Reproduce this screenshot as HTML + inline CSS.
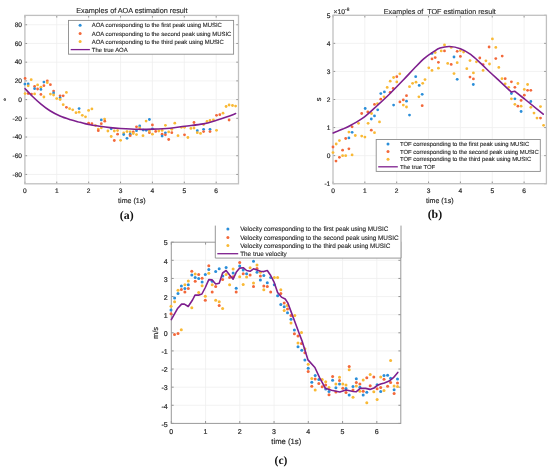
<!DOCTYPE html>
<html><head><meta charset="utf-8"><title>AOA TOF velocity estimation</title>
<style>html,body{margin:0;padding:0;background:#fff;width:550px;height:470px;overflow:hidden}svg{display:block}</style>
</head><body>
<svg width="550" height="470" viewBox="0 0 550 470" font-family="'Liberation Sans', Arial, sans-serif" text-rendering="geometricPrecision">
<rect width="550" height="470" fill="#fff"/>
<path d="M56.78 15.40V183.80M88.66 15.40V183.80M120.54 15.40V183.80M152.42 15.40V183.80M184.30 15.40V183.80M216.18 15.40V183.80M24.90 174.44H238.50M24.90 155.73H238.50M24.90 137.02H238.50M24.90 118.31H238.50M24.90 99.60H238.50M24.90 80.89H238.50M24.90 62.18H238.50M24.90 43.47H238.50M24.90 24.76H238.50" stroke="#efefef" stroke-width="0.8" fill="none"/>
<path d="M24.90 183.80v-2.2M24.90 15.40v2.2M56.78 183.80v-2.2M56.78 15.40v2.2M88.66 183.80v-2.2M88.66 15.40v2.2M120.54 183.80v-2.2M120.54 15.40v2.2M152.42 183.80v-2.2M152.42 15.40v2.2M184.30 183.80v-2.2M184.30 15.40v2.2M216.18 183.80v-2.2M216.18 15.40v2.2M24.90 174.44h2.2M238.50 174.44h-2.2M24.90 155.73h2.2M238.50 155.73h-2.2M24.90 137.02h2.2M238.50 137.02h-2.2M24.90 118.31h2.2M238.50 118.31h-2.2M24.90 99.60h2.2M238.50 99.60h-2.2M24.90 80.89h2.2M238.50 80.89h-2.2M24.90 62.18h2.2M238.50 62.18h-2.2M24.90 43.47h2.2M238.50 43.47h-2.2M24.90 24.76h2.2M238.50 24.76h-2.2" stroke="#6a6a6a" stroke-width="0.7" fill="none"/>
<rect x="24.90" y="15.40" width="213.60" height="168.40" stroke="#c0c0c0" stroke-width="1.3" fill="none"/>
<g font-size="6.6" fill="#2e2e2e" stroke="#2e2e2e" stroke-width="0.22"><text x="22.00" y="176.75" text-anchor="end">-80</text><text x="22.00" y="158.04" text-anchor="end">-60</text><text x="22.00" y="139.33" text-anchor="end">-40</text><text x="22.00" y="120.62" text-anchor="end">-20</text><text x="22.00" y="101.91" text-anchor="end">0</text><text x="22.00" y="83.20" text-anchor="end">20</text><text x="22.00" y="64.49" text-anchor="end">40</text><text x="22.00" y="45.78" text-anchor="end">60</text><text x="22.00" y="27.07" text-anchor="end">80</text><text x="24.90" y="193.40" text-anchor="middle">0</text><text x="56.78" y="193.40" text-anchor="middle">1</text><text x="88.66" y="193.40" text-anchor="middle">2</text><text x="120.54" y="193.40" text-anchor="middle">3</text><text x="152.42" y="193.40" text-anchor="middle">4</text><text x="184.30" y="193.40" text-anchor="middle">5</text><text x="216.18" y="193.40" text-anchor="middle">6</text></g>
<circle cx="25.1" cy="78.4" r="1.4" fill="#f3683a"/><circle cx="31.2" cy="79.7" r="1.4" fill="#f9b935"/><circle cx="24.9" cy="84.1" r="1.4" fill="#2a8ed9"/><circle cx="28.2" cy="83.9" r="1.4" fill="#2a8ed9"/><circle cx="28.2" cy="85.8" r="1.4" fill="#f9b935"/><circle cx="25.1" cy="93.6" r="1.4" fill="#f9b935"/><circle cx="28.2" cy="93.6" r="1.4" fill="#f3683a"/><circle cx="31.5" cy="94.1" r="1.4" fill="#f3683a"/><circle cx="34.6" cy="93.9" r="1.4" fill="#f9b935"/><circle cx="34.6" cy="86.4" r="1.4" fill="#f3683a"/><circle cx="34.6" cy="88.7" r="1.4" fill="#2a8ed9"/><circle cx="37.6" cy="84.9" r="1.4" fill="#f9b935"/><circle cx="37.6" cy="89.0" r="1.4" fill="#f3683a"/><circle cx="40.9" cy="87.2" r="1.4" fill="#f9b935"/><circle cx="40.9" cy="89.4" r="1.4" fill="#2a8ed9"/><circle cx="40.9" cy="94.4" r="1.4" fill="#f3683a"/><circle cx="43.9" cy="82.1" r="1.4" fill="#2a8ed9"/><circle cx="43.9" cy="85.7" r="1.4" fill="#f3683a"/><circle cx="43.9" cy="97.0" r="1.4" fill="#f9b935"/><circle cx="47.3" cy="80.8" r="1.4" fill="#f3683a"/><circle cx="47.3" cy="82.7" r="1.4" fill="#f9b935"/><circle cx="50.4" cy="84.7" r="1.4" fill="#f3683a"/><circle cx="50.4" cy="94.1" r="1.4" fill="#f9b935"/><circle cx="53.6" cy="91.1" r="1.4" fill="#f3683a"/><circle cx="53.6" cy="92.9" r="1.4" fill="#2a8ed9"/><circle cx="53.6" cy="95.0" r="1.4" fill="#f9b935"/><circle cx="56.7" cy="98.6" r="1.4" fill="#f9b935"/><circle cx="60.1" cy="95.8" r="1.4" fill="#f3683a"/><circle cx="60.1" cy="97.8" r="1.4" fill="#2a8ed9"/><circle cx="60.1" cy="99.5" r="1.4" fill="#f9b935"/><circle cx="63.2" cy="95.8" r="1.4" fill="#f3683a"/><circle cx="63.2" cy="104.7" r="1.4" fill="#f9b935"/><circle cx="66.4" cy="92.4" r="1.4" fill="#f9b935"/><circle cx="66.4" cy="107.3" r="1.4" fill="#f3683a"/><circle cx="69.6" cy="108.7" r="1.4" fill="#f9b935"/><circle cx="72.7" cy="109.8" r="1.4" fill="#f9b935"/><circle cx="76.0" cy="112.7" r="1.4" fill="#f9b935"/><circle cx="79.1" cy="108.6" r="1.4" fill="#2a8ed9"/><circle cx="79.1" cy="112.2" r="1.4" fill="#f9b935"/><circle cx="82.3" cy="115.3" r="1.4" fill="#f9b935"/><circle cx="85.5" cy="116.8" r="1.4" fill="#f9b935"/><circle cx="88.6" cy="110.4" r="1.4" fill="#f9b935"/><circle cx="91.9" cy="108.9" r="1.4" fill="#f9b935"/><circle cx="88.6" cy="123.2" r="1.4" fill="#f3683a"/><circle cx="91.9" cy="123.7" r="1.4" fill="#f3683a"/><circle cx="95.5" cy="125.6" r="1.4" fill="#f9b935"/><circle cx="98.3" cy="129.1" r="1.4" fill="#f9b935"/><circle cx="98.3" cy="130.7" r="1.4" fill="#f3683a"/><circle cx="101.3" cy="119.9" r="1.4" fill="#2a8ed9"/><circle cx="104.6" cy="119.1" r="1.4" fill="#f9b935"/><circle cx="104.8" cy="121.2" r="1.4" fill="#f3683a"/><circle cx="101.3" cy="123.7" r="1.4" fill="#f3683a"/><circle cx="101.3" cy="127.8" r="1.4" fill="#f9b935"/><circle cx="111.2" cy="128.8" r="1.4" fill="#2a8ed9"/><circle cx="107.9" cy="131.0" r="1.4" fill="#f9b935"/><circle cx="111.2" cy="136.5" r="1.4" fill="#f9b935"/><circle cx="114.3" cy="140.5" r="1.4" fill="#f3683a"/><circle cx="114.3" cy="131.0" r="1.4" fill="#f9b935"/><circle cx="117.6" cy="130.6" r="1.4" fill="#f9b935"/><circle cx="117.6" cy="134.2" r="1.4" fill="#f3683a"/><circle cx="120.6" cy="140.3" r="1.4" fill="#f9b935"/><circle cx="123.7" cy="132.9" r="1.4" fill="#f9b935"/><circle cx="123.7" cy="134.6" r="1.4" fill="#2a8ed9"/><circle cx="127.0" cy="131.6" r="1.4" fill="#f9b935"/><circle cx="127.0" cy="138.3" r="1.4" fill="#2a8ed9"/><circle cx="130.2" cy="131.9" r="1.4" fill="#f9b935"/><circle cx="130.2" cy="134.2" r="1.4" fill="#2a8ed9"/><circle cx="130.2" cy="135.7" r="1.4" fill="#f3683a"/><circle cx="133.3" cy="131.9" r="1.4" fill="#f3683a"/><circle cx="133.3" cy="133.5" r="1.4" fill="#f9b935"/><circle cx="136.5" cy="126.8" r="1.4" fill="#f3683a"/><circle cx="136.5" cy="130.7" r="1.4" fill="#2a8ed9"/><circle cx="136.5" cy="134.6" r="1.4" fill="#f9b935"/><circle cx="139.7" cy="125.9" r="1.4" fill="#2a8ed9"/><circle cx="139.7" cy="127.8" r="1.4" fill="#f9b935"/><circle cx="143.0" cy="135.7" r="1.4" fill="#f9b935"/><circle cx="143.2" cy="130.1" r="1.4" fill="#2a8ed9"/><circle cx="146.1" cy="121.1" r="1.4" fill="#f9b935"/><circle cx="149.4" cy="119.5" r="1.4" fill="#2a8ed9"/><circle cx="146.2" cy="130.3" r="1.4" fill="#2a8ed9"/><circle cx="149.4" cy="132.7" r="1.4" fill="#f3683a"/><circle cx="149.4" cy="131.0" r="1.4" fill="#f9b935"/><circle cx="152.4" cy="125.0" r="1.4" fill="#f3683a"/><circle cx="152.4" cy="128.8" r="1.4" fill="#2a8ed9"/><circle cx="152.4" cy="134.2" r="1.4" fill="#f9b935"/><circle cx="155.7" cy="131.4" r="1.4" fill="#f3683a"/><circle cx="158.8" cy="131.0" r="1.4" fill="#f9b935"/><circle cx="162.1" cy="130.4" r="1.4" fill="#f9b935"/><circle cx="162.1" cy="134.2" r="1.4" fill="#f3683a"/><circle cx="162.1" cy="136.1" r="1.4" fill="#2a8ed9"/><circle cx="165.4" cy="132.8" r="1.4" fill="#2a8ed9"/><circle cx="165.4" cy="134.8" r="1.4" fill="#f3683a"/><circle cx="165.4" cy="125.3" r="1.4" fill="#f9b935"/><circle cx="168.7" cy="139.5" r="1.4" fill="#f3683a"/><circle cx="168.7" cy="131.9" r="1.4" fill="#f9b935"/><circle cx="171.8" cy="132.7" r="1.4" fill="#f3683a"/><circle cx="171.8" cy="129.3" r="1.4" fill="#f9b935"/><circle cx="174.8" cy="123.2" r="1.4" fill="#f9b935"/><circle cx="178.0" cy="135.7" r="1.4" fill="#f9b935"/><circle cx="181.4" cy="127.3" r="1.4" fill="#f9b935"/><circle cx="184.5" cy="134.8" r="1.4" fill="#f3683a"/><circle cx="184.5" cy="127.3" r="1.4" fill="#f9b935"/><circle cx="187.9" cy="137.5" r="1.4" fill="#f9b935"/><circle cx="190.9" cy="128.4" r="1.4" fill="#f9b935"/><circle cx="194.0" cy="122.5" r="1.4" fill="#f3683a"/><circle cx="194.0" cy="128.0" r="1.4" fill="#f9b935"/><circle cx="197.3" cy="130.7" r="1.4" fill="#2a8ed9"/><circle cx="197.3" cy="132.7" r="1.4" fill="#f9b935"/><circle cx="200.5" cy="133.4" r="1.4" fill="#f9b935"/><circle cx="203.6" cy="124.5" r="1.4" fill="#f9b935"/><circle cx="203.6" cy="129.3" r="1.4" fill="#2a8ed9"/><circle cx="203.6" cy="131.6" r="1.4" fill="#f3683a"/><circle cx="207.0" cy="121.5" r="1.4" fill="#f9b935"/><circle cx="210.0" cy="129.3" r="1.4" fill="#2a8ed9"/><circle cx="210.0" cy="131.6" r="1.4" fill="#f3683a"/><circle cx="210.0" cy="120.5" r="1.4" fill="#f9b935"/><circle cx="213.4" cy="119.8" r="1.4" fill="#f9b935"/><circle cx="216.5" cy="115.3" r="1.4" fill="#f3683a"/><circle cx="216.5" cy="130.3" r="1.4" fill="#f9b935"/><circle cx="219.8" cy="114.7" r="1.4" fill="#f3683a"/><circle cx="223.0" cy="113.2" r="1.4" fill="#f9b935"/><circle cx="229.1" cy="120.0" r="1.4" fill="#f3683a"/><circle cx="226.1" cy="106.5" r="1.4" fill="#f9b935"/><circle cx="229.1" cy="105.0" r="1.4" fill="#f9b935"/><circle cx="232.5" cy="105.5" r="1.4" fill="#f9b935"/><circle cx="235.6" cy="106.1" r="1.4" fill="#f9b935"/>
<path d="M25.10 88.70 C26.30 89.95 29.60 93.58 32.30 96.20 C35.00 98.82 38.35 101.97 41.30 104.40 C44.25 106.83 46.88 108.85 50.00 110.80 C53.12 112.75 56.57 114.60 60.00 116.10 C63.43 117.60 67.27 118.77 70.60 119.80 C73.93 120.83 77.00 121.52 80.00 122.30 C83.00 123.08 85.27 123.83 88.60 124.50 C91.93 125.17 96.43 125.78 100.00 126.30 C103.57 126.82 106.60 127.23 110.00 127.60 C113.40 127.97 115.70 128.22 120.40 128.50 C125.10 128.78 132.80 129.20 138.20 129.30 C143.60 129.40 147.50 129.28 152.80 129.10 C158.10 128.92 164.67 128.68 170.00 128.20 C175.33 127.72 179.27 126.92 184.80 126.20 C190.33 125.48 197.92 124.90 203.20 123.90 C208.48 122.90 212.63 121.35 216.50 120.20 C220.37 119.05 223.22 118.10 226.40 117.00 C229.58 115.90 234.07 114.17 235.60 113.60" stroke="#7e1f8e" stroke-width="1.6" fill="none" stroke-linejoin="round" stroke-linecap="round"/>
<rect x="68.5" y="20.4" width="165.1" height="33.800000000000004" fill="#fff" stroke="#8c8c8c" stroke-width="0.9"/>
<circle cx="80.1" cy="25.3" r="1.5" fill="#2a8ed9"/>
<circle cx="80.1" cy="33.5" r="1.5" fill="#f3683a"/>
<circle cx="80.1" cy="41.5" r="1.5" fill="#f9b935"/>
<path d="M70.7 49.6H89.9" stroke="#7e1f8e" stroke-width="1.3"/>
<g font-size="5.93" fill="#262626" stroke="#262626" stroke-width="0.12"><text x="91.8" y="27.43">AOA corresponding to the first peak using MUSIC</text><text x="91.8" y="35.63">AOA corresponding to the second peak using MUSIC</text><text x="91.8" y="43.63">AOA corresponding to the third peak using MUSIC</text><text x="91.8" y="51.73">The true AOA</text></g>
<text x="131.9" y="13.4" font-size="7.25" fill="#262626" stroke="#262626" stroke-width="0.12" text-anchor="middle">Examples of AOA estimation result</text>
<text x="131.9" y="202.6" font-size="7.1" fill="#262626" stroke="#262626" stroke-width="0.15" text-anchor="middle">time (1s)</text>
<text x="4.8" y="99.5" font-size="7.5" fill="#444" text-anchor="middle" transform="rotate(-90 4.8 99.5)" dy="3.9" stroke="#444" stroke-width="0.35">°</text>
<text x="126.7" y="218.8" font-size="11.8" font-weight="bold" font-family="'Liberation Serif', serif" fill="#111" text-anchor="middle">(a)</text>
<path d="M364.85 15.30V183.70M396.70 15.30V183.70M428.55 15.30V183.70M460.40 15.30V183.70M492.25 15.30V183.70M524.10 15.30V183.70M333.00 155.63H546.40M333.00 127.57H546.40M333.00 99.50H546.40M333.00 71.43H546.40M333.00 43.37H546.40" stroke="#efefef" stroke-width="0.8" fill="none"/>
<path d="M333.00 183.70v-2.2M333.00 15.30v2.2M364.85 183.70v-2.2M364.85 15.30v2.2M396.70 183.70v-2.2M396.70 15.30v2.2M428.55 183.70v-2.2M428.55 15.30v2.2M460.40 183.70v-2.2M460.40 15.30v2.2M492.25 183.70v-2.2M492.25 15.30v2.2M524.10 183.70v-2.2M524.10 15.30v2.2M333.00 183.70h2.2M546.40 183.70h-2.2M333.00 155.63h2.2M546.40 155.63h-2.2M333.00 127.57h2.2M546.40 127.57h-2.2M333.00 99.50h2.2M546.40 99.50h-2.2M333.00 71.43h2.2M546.40 71.43h-2.2M333.00 43.37h2.2M546.40 43.37h-2.2M333.00 15.30h2.2M546.40 15.30h-2.2" stroke="#6a6a6a" stroke-width="0.7" fill="none"/>
<rect x="333.00" y="15.30" width="213.40" height="168.40" stroke="#c0c0c0" stroke-width="1.3" fill="none"/>
<g font-size="6.6" fill="#2e2e2e" stroke="#2e2e2e" stroke-width="0.22"><text x="330.30" y="186.01" text-anchor="end">-1</text><text x="330.30" y="157.94" text-anchor="end">0</text><text x="330.30" y="129.88" text-anchor="end">1</text><text x="330.30" y="101.81" text-anchor="end">2</text><text x="330.30" y="73.74" text-anchor="end">3</text><text x="330.30" y="45.68" text-anchor="end">4</text><text x="330.30" y="17.61" text-anchor="end">5</text><text x="333.00" y="193.40" text-anchor="middle">0</text><text x="364.85" y="193.40" text-anchor="middle">1</text><text x="396.70" y="193.40" text-anchor="middle">2</text><text x="428.55" y="193.40" text-anchor="middle">3</text><text x="460.40" y="193.40" text-anchor="middle">4</text><text x="492.25" y="193.40" text-anchor="middle">5</text><text x="524.10" y="193.40" text-anchor="middle">6</text></g>
<circle cx="361.7" cy="113.5" r="1.4" fill="#f3683a"/><circle cx="367.8" cy="111.9" r="1.4" fill="#f3683a"/><circle cx="371.5" cy="113.5" r="1.4" fill="#f9b935"/><circle cx="377.7" cy="109.8" r="1.4" fill="#2a8ed9"/><circle cx="374.5" cy="115.9" r="1.4" fill="#2a8ed9"/><circle cx="371.3" cy="119.0" r="1.4" fill="#2a8ed9"/><circle cx="368.1" cy="123.3" r="1.4" fill="#f9b935"/><circle cx="358.5" cy="123.3" r="1.4" fill="#f9b935"/><circle cx="379.5" cy="121.9" r="1.4" fill="#f9b935"/><circle cx="352.1" cy="126.8" r="1.4" fill="#f3683a"/><circle cx="348.9" cy="132.1" r="1.4" fill="#f9b935"/><circle cx="352.1" cy="132.3" r="1.4" fill="#2a8ed9"/><circle cx="371.3" cy="130.2" r="1.4" fill="#f3683a"/><circle cx="374.5" cy="132.7" r="1.4" fill="#f9b935"/><circle cx="355.3" cy="135.5" r="1.4" fill="#f9b935"/><circle cx="361.7" cy="136.1" r="1.4" fill="#f9b935"/><circle cx="364.9" cy="137.1" r="1.4" fill="#f9b935"/><circle cx="345.7" cy="138.5" r="1.4" fill="#f3683a"/><circle cx="348.9" cy="137.9" r="1.4" fill="#2a8ed9"/><circle cx="339.4" cy="140.6" r="1.4" fill="#f9b935"/><circle cx="336.2" cy="144.0" r="1.4" fill="#f9b935"/><circle cx="333.0" cy="147.0" r="1.4" fill="#f3683a"/><circle cx="342.6" cy="150.2" r="1.4" fill="#f3683a"/><circle cx="348.9" cy="148.8" r="1.4" fill="#f3683a"/><circle cx="333.0" cy="152.6" r="1.4" fill="#f9b935"/><circle cx="342.6" cy="155.7" r="1.4" fill="#f9b935"/><circle cx="345.7" cy="155.7" r="1.4" fill="#f9b935"/><circle cx="352.1" cy="154.9" r="1.4" fill="#f9b935"/><circle cx="339.4" cy="157.3" r="1.4" fill="#f3683a"/><circle cx="336.0" cy="161.1" r="1.4" fill="#f3683a"/><circle cx="393.6" cy="77.5" r="1.4" fill="#f9b935"/><circle cx="396.8" cy="76.7" r="1.4" fill="#f3683a"/><circle cx="390.2" cy="81.2" r="1.4" fill="#f9b935"/><circle cx="396.8" cy="81.9" r="1.4" fill="#f9b935"/><circle cx="387.2" cy="87.4" r="1.4" fill="#f9b935"/><circle cx="393.2" cy="88.4" r="1.4" fill="#f3683a"/><circle cx="380.8" cy="93.6" r="1.4" fill="#2a8ed9"/><circle cx="384.4" cy="91.9" r="1.4" fill="#2a8ed9"/><circle cx="390.2" cy="92.3" r="1.4" fill="#f3683a"/><circle cx="384.0" cy="96.8" r="1.4" fill="#f9b935"/><circle cx="380.8" cy="99.2" r="1.4" fill="#f3683a"/><circle cx="377.5" cy="103.7" r="1.4" fill="#f9b935"/><circle cx="374.5" cy="104.4" r="1.4" fill="#f3683a"/><circle cx="393.6" cy="105.1" r="1.4" fill="#2a8ed9"/><circle cx="365.2" cy="108.5" r="1.4" fill="#2a8ed9"/><circle cx="415.7" cy="76.7" r="1.4" fill="#2a8ed9"/><circle cx="412.6" cy="83.3" r="1.4" fill="#f9b935"/><circle cx="416.0" cy="82.2" r="1.4" fill="#f9b935"/><circle cx="419.2" cy="85.4" r="1.4" fill="#2a8ed9"/><circle cx="422.7" cy="83.3" r="1.4" fill="#f9b935"/><circle cx="409.5" cy="86.7" r="1.4" fill="#f9b935"/><circle cx="422.2" cy="94.3" r="1.4" fill="#2a8ed9"/><circle cx="418.9" cy="96.8" r="1.4" fill="#f9b935"/><circle cx="406.5" cy="95.7" r="1.4" fill="#f3683a"/><circle cx="403.3" cy="99.9" r="1.4" fill="#f3683a"/><circle cx="399.9" cy="101.9" r="1.4" fill="#f3683a"/><circle cx="406.5" cy="101.2" r="1.4" fill="#2a8ed9"/><circle cx="403.3" cy="105.1" r="1.4" fill="#f9b935"/><circle cx="406.5" cy="107.0" r="1.4" fill="#f9b935"/><circle cx="409.5" cy="115.1" r="1.4" fill="#2a8ed9"/><circle cx="422.2" cy="105.7" r="1.4" fill="#f3683a"/><circle cx="425.0" cy="79.6" r="1.4" fill="#f9b935"/><circle cx="399.8" cy="73.8" r="1.4" fill="#f9b935"/><circle cx="428.8" cy="67.8" r="1.4" fill="#f9b935"/><circle cx="432.0" cy="70.4" r="1.4" fill="#f9b935"/><circle cx="432.0" cy="53.4" r="1.4" fill="#2a8ed9"/><circle cx="432.0" cy="58.9" r="1.4" fill="#f3683a"/><circle cx="435.2" cy="57.6" r="1.4" fill="#f3683a"/><circle cx="435.2" cy="52.5" r="1.4" fill="#f9b935"/><circle cx="438.4" cy="62.3" r="1.4" fill="#f3683a"/><circle cx="438.4" cy="68.2" r="1.4" fill="#f9b935"/><circle cx="441.2" cy="50.9" r="1.4" fill="#f9b935"/><circle cx="444.5" cy="50.9" r="1.4" fill="#f3683a"/><circle cx="444.5" cy="44.9" r="1.4" fill="#f9b935"/><circle cx="451.2" cy="47.4" r="1.4" fill="#f9b935"/><circle cx="457.2" cy="51.3" r="1.4" fill="#f3683a"/><circle cx="460.4" cy="50.6" r="1.4" fill="#f9b935"/><circle cx="463.6" cy="52.1" r="1.4" fill="#f9b935"/><circle cx="454.0" cy="57.0" r="1.4" fill="#2a8ed9"/><circle cx="460.4" cy="56.4" r="1.4" fill="#f3683a"/><circle cx="447.7" cy="63.4" r="1.4" fill="#f9b935"/><circle cx="451.2" cy="64.4" r="1.4" fill="#f3683a"/><circle cx="457.2" cy="62.7" r="1.4" fill="#f9b935"/><circle cx="470.0" cy="60.6" r="1.4" fill="#f9b935"/><circle cx="466.8" cy="68.7" r="1.4" fill="#f9b935"/><circle cx="479.8" cy="58.0" r="1.4" fill="#f3683a"/><circle cx="476.4" cy="61.8" r="1.4" fill="#f9b935"/><circle cx="483.1" cy="64.6" r="1.4" fill="#f3683a"/><circle cx="485.9" cy="60.8" r="1.4" fill="#f9b935"/><circle cx="489.5" cy="64.0" r="1.4" fill="#f9b935"/><circle cx="483.1" cy="70.4" r="1.4" fill="#f9b935"/><circle cx="489.1" cy="47.0" r="1.4" fill="#f3683a"/><circle cx="454.0" cy="73.6" r="1.4" fill="#f9b935"/><circle cx="473.4" cy="72.9" r="1.4" fill="#f9b935"/><circle cx="470.0" cy="77.1" r="1.4" fill="#f3683a"/><circle cx="473.4" cy="78.9" r="1.4" fill="#f3683a"/><circle cx="457.2" cy="79.3" r="1.4" fill="#2a8ed9"/><circle cx="473.3" cy="84.5" r="1.4" fill="#2a8ed9"/><circle cx="492.4" cy="38.9" r="1.4" fill="#f9b935"/><circle cx="495.8" cy="47.4" r="1.4" fill="#f9b935"/><circle cx="502.2" cy="56.1" r="1.4" fill="#f3683a"/><circle cx="495.8" cy="58.6" r="1.4" fill="#f3683a"/><circle cx="498.8" cy="67.4" r="1.4" fill="#f9b935"/><circle cx="502.0" cy="78.7" r="1.4" fill="#f9b935"/><circle cx="505.2" cy="78.7" r="1.4" fill="#f3683a"/><circle cx="505.2" cy="83.8" r="1.4" fill="#f9b935"/><circle cx="511.4" cy="81.8" r="1.4" fill="#f3683a"/><circle cx="508.7" cy="87.3" r="1.4" fill="#f9b935"/><circle cx="514.9" cy="87.3" r="1.4" fill="#f3683a"/><circle cx="517.9" cy="83.5" r="1.4" fill="#f9b935"/><circle cx="527.6" cy="84.5" r="1.4" fill="#f9b935"/><circle cx="524.3" cy="89.4" r="1.4" fill="#f9b935"/><circle cx="527.6" cy="90.3" r="1.4" fill="#f3683a"/><circle cx="530.8" cy="90.3" r="1.4" fill="#f3683a"/><circle cx="511.4" cy="93.5" r="1.4" fill="#2a8ed9"/><circle cx="524.3" cy="95.2" r="1.4" fill="#f3683a"/><circle cx="511.4" cy="98.8" r="1.4" fill="#f9b935"/><circle cx="514.9" cy="98.8" r="1.4" fill="#2a8ed9"/><circle cx="521.1" cy="100.4" r="1.4" fill="#f3683a"/><circle cx="530.8" cy="101.5" r="1.4" fill="#2a8ed9"/><circle cx="514.9" cy="104.3" r="1.4" fill="#f9b935"/><circle cx="517.9" cy="106.2" r="1.4" fill="#f3683a"/><circle cx="521.1" cy="106.2" r="1.4" fill="#f9b935"/><circle cx="530.8" cy="107.3" r="1.4" fill="#f9b935"/><circle cx="521.1" cy="111.5" r="1.4" fill="#2a8ed9"/><circle cx="534.0" cy="113.1" r="1.4" fill="#f9b935"/><circle cx="540.5" cy="106.6" r="1.4" fill="#f9b935"/><circle cx="537.0" cy="118.1" r="1.4" fill="#f9b935"/><circle cx="540.5" cy="118.1" r="1.4" fill="#f3683a"/><circle cx="543.6" cy="125.3" r="1.4" fill="#f9b935"/>
<path d="M333.20 132.90 C334.80 132.27 339.70 130.47 342.80 129.10 C345.90 127.73 348.18 126.75 351.80 124.70 C355.42 122.65 360.25 120.00 364.50 116.80 C368.75 113.60 373.20 109.22 377.30 105.50 C381.40 101.78 384.77 98.75 389.10 94.50 C393.43 90.25 399.13 84.33 403.30 80.00 C407.47 75.67 410.60 72.12 414.10 68.50 C417.60 64.88 421.10 61.07 424.30 58.30 C427.50 55.53 430.68 53.60 433.30 51.90 C435.92 50.20 437.28 49.00 440.00 48.10 C442.72 47.20 446.20 46.40 449.60 46.50 C453.00 46.60 456.90 47.38 460.40 48.70 C463.90 50.02 467.20 51.95 470.60 54.40 C474.00 56.85 477.62 60.47 480.80 63.40 C483.98 66.33 486.87 69.35 489.70 72.00 C492.53 74.65 496.45 78.08 497.80 79.30 L511.40 92.10 L514.60 91.20 L524.60 99.00 L543.20 114.20" stroke="#7e1f8e" stroke-width="1.6" fill="none" stroke-linejoin="round" stroke-linecap="round"/>
<rect x="376.2" y="139.5" width="164.09999999999997" height="31.900000000000006" fill="#fff" stroke="#8c8c8c" stroke-width="0.9"/>
<circle cx="388" cy="144.0" r="1.5" fill="#2a8ed9"/>
<circle cx="388" cy="151.6" r="1.5" fill="#f3683a"/>
<circle cx="388" cy="159.2" r="1.5" fill="#f9b935"/>
<path d="M378.2 166.8H397.8" stroke="#7e1f8e" stroke-width="1.3"/>
<g font-size="5.91" fill="#262626" stroke="#262626" stroke-width="0.12"><text x="400" y="146.13">TOF corresponding to the first peak using MUSIC</text><text x="400" y="153.73">TOF corresponding to the second peak using MUSIC</text><text x="400" y="161.33">TOF corresponding to the third peak using MUSIC</text><text x="400" y="168.93">The true TOF</text></g>
<text x="439.8" y="13.5" font-size="7.2" fill="#262626" stroke="#262626" stroke-width="0.12" text-anchor="middle" style="white-space:pre">Examples of  TOF estimation result</text>
<text x="439.8" y="202.6" font-size="7.1" fill="#262626" stroke="#262626" stroke-width="0.15" text-anchor="middle">time (1s)</text>
<text x="318.7" y="99.4" font-size="7.4" fill="#262626" stroke="#262626" stroke-width="0.2" text-anchor="middle" transform="rotate(-90 318.7 99.4)" dy="2.6">s</text>
<text x="333.5" y="14.0" font-size="6.8" fill="#2e2e2e" stroke="#2e2e2e" stroke-width="0.15">×10<tspan font-size="4.8" dy="-3.1">-8</tspan></text>
<text x="434.9" y="218.2" font-size="11.8" font-weight="bold" font-family="'Liberation Serif', serif" fill="#111" text-anchor="middle">(b)</text>
<path d="M205.55 242.20V423.40M239.81 242.20V423.40M274.06 242.20V423.40M308.31 242.20V423.40M342.57 242.20V423.40M376.82 242.20V423.40M171.30 405.28H400.80M171.30 387.16H400.80M171.30 369.04H400.80M171.30 350.92H400.80M171.30 332.80H400.80M171.30 314.68H400.80M171.30 296.56H400.80M171.30 278.44H400.80M171.30 260.32H400.80" stroke="#efefef" stroke-width="0.8" fill="none"/>
<path d="M171.30 423.40v-2.4M171.30 242.20v2.4M205.55 423.40v-2.4M205.55 242.20v2.4M239.81 423.40v-2.4M239.81 242.20v2.4M274.06 423.40v-2.4M274.06 242.20v2.4M308.31 423.40v-2.4M308.31 242.20v2.4M342.57 423.40v-2.4M342.57 242.20v2.4M376.82 423.40v-2.4M376.82 242.20v2.4M171.30 423.40h2.4M400.80 423.40h-2.4M171.30 405.28h2.4M400.80 405.28h-2.4M171.30 387.16h2.4M400.80 387.16h-2.4M171.30 369.04h2.4M400.80 369.04h-2.4M171.30 350.92h2.4M400.80 350.92h-2.4M171.30 332.80h2.4M400.80 332.80h-2.4M171.30 314.68h2.4M400.80 314.68h-2.4M171.30 296.56h2.4M400.80 296.56h-2.4M171.30 278.44h2.4M400.80 278.44h-2.4M171.30 260.32h2.4M400.80 260.32h-2.4M171.30 242.20h2.4M400.80 242.20h-2.4" stroke="#6a6a6a" stroke-width="0.7" fill="none"/>
<rect x="171.30" y="242.20" width="229.50" height="181.20" stroke="#999" stroke-width="1.0" fill="none"/>
<g font-size="7.0" fill="#2e2e2e" stroke="#2e2e2e" stroke-width="0.22"><text x="167.70" y="426.62" text-anchor="end">-5</text><text x="167.70" y="408.50" text-anchor="end">-4</text><text x="167.70" y="390.38" text-anchor="end">-3</text><text x="167.70" y="372.26" text-anchor="end">-2</text><text x="167.70" y="354.14" text-anchor="end">-1</text><text x="167.70" y="336.02" text-anchor="end">0</text><text x="167.70" y="317.90" text-anchor="end">1</text><text x="167.70" y="299.78" text-anchor="end">2</text><text x="167.70" y="281.66" text-anchor="end">3</text><text x="167.70" y="263.54" text-anchor="end">4</text><text x="167.70" y="245.42" text-anchor="end">5</text><text x="171.30" y="433.70" text-anchor="middle">0</text><text x="205.55" y="433.70" text-anchor="middle">1</text><text x="239.81" y="433.70" text-anchor="middle">2</text><text x="274.06" y="433.70" text-anchor="middle">3</text><text x="308.31" y="433.70" text-anchor="middle">4</text><text x="342.57" y="433.70" text-anchor="middle">5</text><text x="376.82" y="433.70" text-anchor="middle">6</text></g>
<circle cx="171.0" cy="306.2" r="1.5" fill="#f9b935"/><circle cx="171.0" cy="310.0" r="1.5" fill="#2a8ed9"/><circle cx="171.0" cy="313.8" r="1.5" fill="#f3683a"/><circle cx="174.6" cy="297.9" r="1.5" fill="#2a8ed9"/><circle cx="174.6" cy="301.7" r="1.5" fill="#f9b935"/><circle cx="178.0" cy="293.4" r="1.5" fill="#2a8ed9"/><circle cx="178.0" cy="290.3" r="1.5" fill="#f9b935"/><circle cx="181.4" cy="286.1" r="1.5" fill="#2a8ed9"/><circle cx="181.4" cy="289.6" r="1.5" fill="#f3683a"/><circle cx="184.9" cy="284.7" r="1.5" fill="#f9b935"/><circle cx="184.9" cy="288.5" r="1.5" fill="#2a8ed9"/><circle cx="184.9" cy="292.1" r="1.5" fill="#f3683a"/><circle cx="188.3" cy="281.0" r="1.5" fill="#f9b935"/><circle cx="188.3" cy="284.7" r="1.5" fill="#2a8ed9"/><circle cx="188.3" cy="288.5" r="1.5" fill="#f3683a"/><circle cx="191.8" cy="271.3" r="1.5" fill="#f3683a"/><circle cx="191.8" cy="275.0" r="1.5" fill="#2a8ed9"/><circle cx="191.8" cy="307.8" r="1.5" fill="#f9b935"/><circle cx="195.2" cy="274.1" r="1.5" fill="#f9b935"/><circle cx="195.2" cy="277.4" r="1.5" fill="#2a8ed9"/><circle cx="195.2" cy="281.3" r="1.5" fill="#f3683a"/><circle cx="198.7" cy="274.6" r="1.5" fill="#f3683a"/><circle cx="198.7" cy="278.5" r="1.5" fill="#2a8ed9"/><circle cx="198.7" cy="292.6" r="1.5" fill="#f9b935"/><circle cx="202.1" cy="278.2" r="1.5" fill="#f3683a"/><circle cx="202.1" cy="282.0" r="1.5" fill="#2a8ed9"/><circle cx="202.1" cy="285.7" r="1.5" fill="#f9b935"/><circle cx="205.3" cy="274.6" r="1.5" fill="#2a8ed9"/><circle cx="205.3" cy="296.2" r="1.5" fill="#f9b935"/><circle cx="205.3" cy="300.3" r="1.5" fill="#f3683a"/><circle cx="208.8" cy="265.8" r="1.5" fill="#f3683a"/><circle cx="208.8" cy="269.5" r="1.5" fill="#2a8ed9"/><circle cx="208.8" cy="273.2" r="1.5" fill="#f9b935"/><circle cx="212.2" cy="281.3" r="1.5" fill="#2a8ed9"/><circle cx="212.2" cy="284.7" r="1.5" fill="#f9b935"/><circle cx="212.2" cy="292.1" r="1.5" fill="#f3683a"/><circle cx="215.7" cy="271.6" r="1.5" fill="#2a8ed9"/><circle cx="215.7" cy="286.5" r="1.5" fill="#f3683a"/><circle cx="215.7" cy="300.3" r="1.5" fill="#f9b935"/><circle cx="219.2" cy="268.8" r="1.5" fill="#2a8ed9"/><circle cx="219.2" cy="301.7" r="1.5" fill="#f9b935"/><circle cx="219.2" cy="305.5" r="1.5" fill="#f3683a"/><circle cx="222.6" cy="308.6" r="1.5" fill="#f9b935"/><circle cx="222.6" cy="279.6" r="1.5" fill="#f3683a"/><circle cx="226.1" cy="267.4" r="1.5" fill="#2a8ed9"/><circle cx="226.1" cy="274.6" r="1.5" fill="#f9b935"/><circle cx="222.8" cy="276.0" r="1.5" fill="#2a8ed9"/><circle cx="229.6" cy="277.4" r="1.5" fill="#f3683a"/><circle cx="229.6" cy="284.7" r="1.5" fill="#f9b935"/><circle cx="233.1" cy="269.1" r="1.5" fill="#f9b935"/><circle cx="233.1" cy="273.0" r="1.5" fill="#2a8ed9"/><circle cx="233.1" cy="276.8" r="1.5" fill="#f3683a"/><circle cx="236.2" cy="288.2" r="1.5" fill="#2a8ed9"/><circle cx="236.2" cy="292.1" r="1.5" fill="#f3683a"/><circle cx="239.7" cy="262.6" r="1.5" fill="#f3683a"/><circle cx="239.7" cy="266.1" r="1.5" fill="#2a8ed9"/><circle cx="239.7" cy="276.8" r="1.5" fill="#f9b935"/><circle cx="243.2" cy="269.9" r="1.5" fill="#2a8ed9"/><circle cx="243.2" cy="273.7" r="1.5" fill="#f3683a"/><circle cx="243.2" cy="284.4" r="1.5" fill="#f9b935"/><circle cx="246.6" cy="273.7" r="1.5" fill="#2a8ed9"/><circle cx="246.6" cy="277.1" r="1.5" fill="#f9b935"/><circle cx="250.1" cy="267.7" r="1.5" fill="#f9b935"/><circle cx="250.1" cy="275.0" r="1.5" fill="#f3683a"/><circle cx="253.5" cy="261.2" r="1.5" fill="#2a8ed9"/><circle cx="253.5" cy="282.9" r="1.5" fill="#f9b935"/><circle cx="253.5" cy="286.5" r="1.5" fill="#f3683a"/><circle cx="257.0" cy="265.0" r="1.5" fill="#f9b935"/><circle cx="257.0" cy="268.5" r="1.5" fill="#f3683a"/><circle cx="257.0" cy="272.3" r="1.5" fill="#2a8ed9"/><circle cx="260.4" cy="272.3" r="1.5" fill="#f9b935"/><circle cx="260.4" cy="276.0" r="1.5" fill="#f3683a"/><circle cx="260.4" cy="279.9" r="1.5" fill="#2a8ed9"/><circle cx="263.8" cy="275.5" r="1.5" fill="#2a8ed9"/><circle cx="263.8" cy="286.1" r="1.5" fill="#f3683a"/><circle cx="263.8" cy="289.8" r="1.5" fill="#f9b935"/><circle cx="267.3" cy="282.7" r="1.5" fill="#2a8ed9"/><circle cx="267.3" cy="286.5" r="1.5" fill="#f3683a"/><circle cx="270.7" cy="277.4" r="1.5" fill="#2a8ed9"/><circle cx="270.7" cy="292.1" r="1.5" fill="#f3683a"/><circle cx="274.3" cy="277.4" r="1.5" fill="#f9b935"/><circle cx="274.3" cy="284.7" r="1.5" fill="#2a8ed9"/><circle cx="277.6" cy="277.4" r="1.5" fill="#f9b935"/><circle cx="277.6" cy="295.8" r="1.5" fill="#2a8ed9"/><circle cx="280.8" cy="289.8" r="1.5" fill="#f9b935"/><circle cx="280.8" cy="293.4" r="1.5" fill="#f3683a"/><circle cx="280.8" cy="304.5" r="1.5" fill="#2a8ed9"/><circle cx="284.2" cy="302.9" r="1.5" fill="#f3683a"/><circle cx="287.1" cy="305.4" r="1.5" fill="#f9b935"/><circle cx="284.2" cy="306.7" r="1.5" fill="#2a8ed9"/><circle cx="287.5" cy="309.0" r="1.5" fill="#f3683a"/><circle cx="284.2" cy="310.5" r="1.5" fill="#f9b935"/><circle cx="287.5" cy="312.8" r="1.5" fill="#2a8ed9"/><circle cx="291.0" cy="315.6" r="1.5" fill="#f3683a"/><circle cx="294.8" cy="315.6" r="1.5" fill="#f9b935"/><circle cx="291.0" cy="319.2" r="1.5" fill="#2a8ed9"/><circle cx="291.0" cy="323.0" r="1.5" fill="#f9b935"/><circle cx="294.4" cy="329.9" r="1.5" fill="#2a8ed9"/><circle cx="294.4" cy="333.7" r="1.5" fill="#f3683a"/><circle cx="301.5" cy="332.4" r="1.5" fill="#f9b935"/><circle cx="298.0" cy="336.0" r="1.5" fill="#f3683a"/><circle cx="298.0" cy="343.0" r="1.5" fill="#f9b935"/><circle cx="301.5" cy="343.4" r="1.5" fill="#f3683a"/><circle cx="298.0" cy="346.8" r="1.5" fill="#2a8ed9"/><circle cx="301.8" cy="350.2" r="1.5" fill="#2a8ed9"/><circle cx="304.9" cy="348.8" r="1.5" fill="#f9b935"/><circle cx="304.9" cy="352.7" r="1.5" fill="#f3683a"/><circle cx="304.9" cy="359.9" r="1.5" fill="#2a8ed9"/><circle cx="308.2" cy="364.3" r="1.5" fill="#f9b935"/><circle cx="308.2" cy="368.2" r="1.5" fill="#2a8ed9"/><circle cx="308.2" cy="371.6" r="1.5" fill="#f3683a"/><circle cx="315.2" cy="375.4" r="1.5" fill="#2a8ed9"/><circle cx="311.8" cy="378.6" r="1.5" fill="#f9b935"/><circle cx="315.2" cy="379.0" r="1.5" fill="#f3683a"/><circle cx="311.8" cy="382.3" r="1.5" fill="#2a8ed9"/><circle cx="311.8" cy="386.2" r="1.5" fill="#f3683a"/><circle cx="315.2" cy="390.0" r="1.5" fill="#f9b935"/><circle cx="318.8" cy="379.5" r="1.5" fill="#2a8ed9"/><circle cx="318.8" cy="383.4" r="1.5" fill="#f3683a"/><circle cx="322.2" cy="379.5" r="1.5" fill="#f9b935"/><circle cx="322.2" cy="386.8" r="1.5" fill="#f3683a"/><circle cx="325.7" cy="381.7" r="1.5" fill="#f9b935"/><circle cx="325.7" cy="385.0" r="1.5" fill="#f3683a"/><circle cx="325.7" cy="388.9" r="1.5" fill="#2a8ed9"/><circle cx="329.0" cy="387.5" r="1.5" fill="#f9b935"/><circle cx="329.0" cy="391.4" r="1.5" fill="#2a8ed9"/><circle cx="329.0" cy="394.7" r="1.5" fill="#f3683a"/><circle cx="332.6" cy="376.5" r="1.5" fill="#f3683a"/><circle cx="332.6" cy="380.3" r="1.5" fill="#2a8ed9"/><circle cx="335.9" cy="384.1" r="1.5" fill="#f9b935"/><circle cx="335.9" cy="387.8" r="1.5" fill="#2a8ed9"/><circle cx="335.9" cy="392.0" r="1.5" fill="#f3683a"/><circle cx="339.5" cy="377.2" r="1.5" fill="#f9b935"/><circle cx="339.5" cy="380.6" r="1.5" fill="#f3683a"/><circle cx="339.5" cy="384.1" r="1.5" fill="#2a8ed9"/><circle cx="342.8" cy="384.1" r="1.5" fill="#f9b935"/><circle cx="342.8" cy="388.2" r="1.5" fill="#f3683a"/><circle cx="346.0" cy="385.0" r="1.5" fill="#f9b935"/><circle cx="346.0" cy="388.6" r="1.5" fill="#2a8ed9"/><circle cx="346.0" cy="392.4" r="1.5" fill="#f3683a"/><circle cx="349.2" cy="366.5" r="1.5" fill="#f3683a"/><circle cx="349.2" cy="369.8" r="1.5" fill="#f9b935"/><circle cx="349.2" cy="395.1" r="1.5" fill="#2a8ed9"/><circle cx="353.0" cy="386.6" r="1.5" fill="#2a8ed9"/><circle cx="353.0" cy="390.1" r="1.5" fill="#f3683a"/><circle cx="353.0" cy="397.3" r="1.5" fill="#f9b935"/><circle cx="356.3" cy="378.8" r="1.5" fill="#2a8ed9"/><circle cx="356.3" cy="382.5" r="1.5" fill="#f3683a"/><circle cx="356.3" cy="385.9" r="1.5" fill="#f9b935"/><circle cx="359.9" cy="383.9" r="1.5" fill="#f3683a"/><circle cx="359.9" cy="387.3" r="1.5" fill="#2a8ed9"/><circle cx="359.9" cy="391.2" r="1.5" fill="#f9b935"/><circle cx="363.2" cy="380.1" r="1.5" fill="#f9b935"/><circle cx="363.2" cy="391.2" r="1.5" fill="#f3683a"/><circle cx="363.2" cy="394.9" r="1.5" fill="#2a8ed9"/><circle cx="366.8" cy="377.7" r="1.5" fill="#f3683a"/><circle cx="366.8" cy="392.2" r="1.5" fill="#2a8ed9"/><circle cx="366.8" cy="402.8" r="1.5" fill="#f9b935"/><circle cx="370.2" cy="374.6" r="1.5" fill="#f9b935"/><circle cx="370.2" cy="385.7" r="1.5" fill="#f3683a"/><circle cx="373.8" cy="377.0" r="1.5" fill="#f3683a"/><circle cx="373.8" cy="391.8" r="1.5" fill="#f9b935"/><circle cx="377.1" cy="384.8" r="1.5" fill="#2a8ed9"/><circle cx="377.1" cy="388.7" r="1.5" fill="#f3683a"/><circle cx="377.1" cy="399.5" r="1.5" fill="#f9b935"/><circle cx="380.7" cy="377.0" r="1.5" fill="#f9b935"/><circle cx="380.7" cy="387.6" r="1.5" fill="#f3683a"/><circle cx="380.7" cy="391.5" r="1.5" fill="#2a8ed9"/><circle cx="384.0" cy="375.6" r="1.5" fill="#2a8ed9"/><circle cx="384.0" cy="379.3" r="1.5" fill="#f3683a"/><circle cx="384.0" cy="390.4" r="1.5" fill="#f9b935"/><circle cx="387.6" cy="375.2" r="1.5" fill="#2a8ed9"/><circle cx="387.6" cy="386.2" r="1.5" fill="#f3683a"/><circle cx="390.6" cy="378.3" r="1.5" fill="#2a8ed9"/><circle cx="390.6" cy="382.5" r="1.5" fill="#f3683a"/><circle cx="390.6" cy="360.4" r="1.5" fill="#f9b935"/><circle cx="394.1" cy="389.8" r="1.5" fill="#2a8ed9"/><circle cx="394.1" cy="393.6" r="1.5" fill="#f3683a"/><circle cx="394.1" cy="386.0" r="1.5" fill="#f9b935"/><circle cx="397.5" cy="379.0" r="1.5" fill="#2a8ed9"/><circle cx="397.5" cy="382.9" r="1.5" fill="#f3683a"/><circle cx="397.5" cy="386.6" r="1.5" fill="#f9b935"/><circle cx="181.3" cy="329.7" r="1.5" fill="#f9b935"/><circle cx="174.5" cy="334.4" r="1.5" fill="#f3683a"/><circle cx="178.0" cy="333.6" r="1.5" fill="#f3683a"/>
<path d="M171.3 319.6 L177.8 308.2 L181.6 304.1 L184.4 304.1 L188.2 306.5 L192.5 300.0 L195.0 295.1 L199.1 295.1 L201.9 294.0 L205.3 287.5 L208.8 279.6 L212.2 279.9 L215.7 284.0 L219.2 283.3 L222.6 273.0 L226.1 270.5 L229.6 275.0 L233.1 279.2 L236.2 272.3 L239.7 268.1 L243.2 267.7 L246.6 270.5 L250.1 271.3 L253.5 268.8 L257.0 269.9 L260.4 271.3 L263.8 271.6 L267.3 270.5 L270.7 275.5 L274.3 282.7 L277.6 292.6 L281.4 297.1 L285.2 299.0 L287.8 302.9 L291.6 313.1 L295.4 323.3 L299.2 333.5 L302.4 341.9 L308.0 359.9 L314.9 367.5 L319.7 377.9 L325.3 388.2 L331.5 390.3 L339.8 392.0 L346.0 390.0 L349.8 390.8 L353.3 391.5 L356.1 391.8 L360.2 388.4 L365.7 388.4 L369.9 389.4 L374.0 388.0 L377.5 385.3 L380.7 383.9 L384.4 382.9 L389.2 381.1 L393.4 377.7 L397.8 372.4" stroke="#7e1f8e" stroke-width="1.6" fill="none" stroke-linejoin="round" stroke-linecap="round"/>
<rect x="215.3" y="225.6" width="185.7" height="32.50000000000003" fill="#fff"/>
<path d="M215.3 225.6V258.1H401.0V225.6" stroke="#8c8c8c" stroke-width="0.9" fill="none"/>
<circle cx="227.9" cy="229.1" r="1.5" fill="#2a8ed9"/>
<circle cx="227.9" cy="237.4" r="1.5" fill="#f3683a"/>
<circle cx="227.9" cy="245.5" r="1.5" fill="#f9b935"/>
<path d="M217.3 253.7H238.2" stroke="#7e1f8e" stroke-width="1.3"/>
<g font-size="6.35" fill="#262626" stroke="#262626" stroke-width="0.12"><text x="240.2" y="231.39">Velocity corresponding to the first peak using MUSIC</text><text x="240.2" y="239.69">Velocity corresponding to the second peak using MUSIC</text><text x="240.2" y="247.79">Velocity corresponding to the third peak using MUSIC</text><text x="240.2" y="255.99">The true velocity</text></g>
<text x="286.3" y="444.2" font-size="7.7" fill="#262626" stroke="#262626" stroke-width="0.15" text-anchor="middle">time (1s)</text>
<text x="156.2" y="333" font-size="7.5" fill="#262626" stroke="#262626" stroke-width="0.15" text-anchor="middle" transform="rotate(-90 156.2 333)" dy="2.3">m/s</text>
<text x="281" y="464.3" font-size="11.5" font-weight="bold" font-family="'Liberation Serif', serif" fill="#111" text-anchor="middle">(c)</text>
</svg>
</body></html>
